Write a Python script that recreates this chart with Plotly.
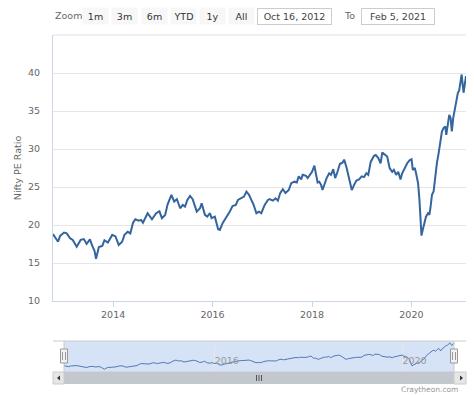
import plotly.graph_objects as go

# ---------------- data ----------------
dates = [
    "2012-10-16", "2012-11-22", "2012-12-07", "2013-01-05", "2013-01-25", "2013-02-18",
    "2013-03-10", "2013-03-24", "2013-04-08", "2013-05-07", "2013-05-31", "2013-06-20",
    "2013-07-14", "2013-08-03", "2013-08-17", "2013-08-28", "2013-09-18", "2013-10-13",
    "2013-10-29", "2013-11-23", "2013-12-25", "2014-01-18", "2014-02-11", "2014-03-08",
    "2014-03-25", "2014-04-18", "2014-05-07", "2014-05-27", "2014-06-13", "2014-07-07",
    "2014-07-25", "2014-08-08", "2014-09-11", "2014-10-13", "2014-11-13", "2014-12-07",
    "2014-12-25", "2015-01-18", "2015-02-04", "2015-02-18", "2015-03-05", "2015-03-25",
    "2015-04-14", "2015-05-08", "2015-05-27", "2015-06-13", "2015-06-30", "2015-07-20",
    "2015-08-08", "2015-09-07", "2015-10-01", "2015-10-13", "2015-10-25", "2015-11-06",
    "2015-11-23", "2015-12-13", "2015-12-25", "2016-01-18", "2016-02-11", "2016-02-24",
    "2016-03-15", "2016-04-08", "2016-04-24", "2016-05-07", "2016-05-27", "2016-06-20",
    "2016-07-06", "2016-07-31", "2016-08-19", "2016-09-06", "2016-09-25", "2016-10-12",
    "2016-10-29", "2016-11-18", "2016-12-07", "2016-12-24", "2017-01-18", "2017-02-11",
    "2017-02-23", "2017-03-19", "2017-04-08", "2017-04-25", "2017-05-12", "2017-05-31",
    "2017-06-20", "2017-07-14", "2017-08-01", "2017-08-25", "2017-09-11", "2017-09-25",
    "2017-10-13", "2017-10-24", "2017-11-18", "2017-11-30", "2017-12-12", "2018-01-01",
    "2018-01-18", "2018-01-30", "2018-02-11", "2018-02-23", "2018-03-08", "2018-03-19",
    "2018-04-01", "2018-04-18", "2018-05-07", "2018-05-20", "2018-06-06", "2018-06-20",
    "2018-07-07", "2018-07-25", "2018-08-13", "2018-08-25", "2018-09-11", "2018-09-30",
    "2018-10-20", "2018-11-06", "2018-11-23", "2018-12-12", "2019-01-01", "2019-01-18",
    "2019-02-04", "2019-02-18", "2019-03-08", "2019-04-01", "2019-04-14", "2019-05-03",
    "2019-05-20", "2019-06-01", "2019-06-20", "2019-07-07", "2019-07-25", "2019-08-13",
    "2019-08-25", "2019-09-11", "2019-09-26", "2019-10-13", "2019-10-25", "2019-11-14",
    "2019-11-30", "2019-12-18", "2020-01-02", "2020-01-11", "2020-01-26", "2020-02-04",
    "2020-02-19", "2020-02-29", "2020-03-07", "2020-03-15", "2020-03-24", "2020-04-08",
    "2020-04-17", "2020-05-02", "2020-05-12", "2020-05-21", "2020-05-31", "2020-06-12",
    "2020-06-25", "2020-07-06", "2020-07-19", "2020-07-31", "2020-08-12", "2020-08-24",
    "2020-09-06", "2020-09-13", "2020-09-25", "2020-10-05", "2020-10-15", "2020-10-24",
    "2020-11-03", "2020-11-13", "2020-11-25", "2020-12-07", "2020-12-17", "2020-12-27",
    "2021-01-04", "2021-01-18", "2021-02-05",
]
pe_ratio = [
    18.8, 17.8, 18.56, 19.0, 18.9, 18.26,
    18.04, 17.6, 17.15, 18.04, 18.15, 17.5,
    18.1, 17.15, 16.6, 15.55, 17.1, 17.25,
    18.0, 17.7, 18.7, 18.5, 17.38, 17.8,
    18.7, 19.1, 18.9, 20.3, 20.76, 20.58,
    20.67, 20.3, 21.55, 20.76, 21.55, 21.8,
    20.9, 21.33, 22.65, 23.3, 23.97, 23.08,
    23.4, 22.2, 22.65, 22.42, 23.3, 23.83,
    23.4, 21.76, 22.2, 22.87, 22.2, 21.33,
    21.1, 21.55, 20.9, 21.1, 19.45, 19.35,
    20.24, 20.9, 21.33, 21.76, 22.5, 22.65,
    23.3, 23.5, 23.74, 24.4, 23.97, 23.3,
    22.65, 21.55, 21.76, 21.55, 22.65, 23.3,
    23.4, 23.2, 23.5, 23.2, 24.2, 24.7,
    24.2, 24.6, 25.5, 25.7, 25.6, 26.4,
    26.0, 26.6, 26.47, 26.17, 26.47, 27.0,
    27.8, 26.6, 25.6, 25.7, 25.28, 24.6,
    25.28, 26.17, 26.8, 26.6, 27.35, 26.17,
    27.0, 28.05, 28.2, 28.6, 27.6, 25.95,
    24.6, 25.28, 25.85, 26.0, 26.4, 26.3,
    26.8, 26.6, 28.3, 29.1, 29.2, 28.8,
    28.1, 29.55, 29.2, 29.0, 27.5, 27.0,
    27.25, 26.6, 27.0, 26.0, 26.8, 27.5,
    28.1, 28.5, 28.65, 27.25, 27.5, 26.8,
    25.5, 23.3, 21.1, 18.6, 19.35, 20.3,
    21.1, 21.55, 21.33, 22.42, 23.97, 24.4,
    26.8, 28.1, 29.46, 30.78, 32.3, 32.75,
    32.97, 31.87, 33.4, 34.5, 34.07, 32.3,
    34.07, 35.16, 36.05, 37.37, 37.7, 38.68,
    39.8, 37.4, 39.6,
]
x_range = ["2012-10-16", "2021-02-05"]
y_ticks = [10, 15, 20, 25, 30, 35, 40]
range_buttons = ["1m", "3m", "6m", "YTD", "1y", "All"]
from_label = "Oct 16, 2012"
to_label = "Feb 5, 2021"
y_title = "Nifty PE Ratio"
credit = "Craytheon.com"

# ---------------- layout helpers ----------------
W, H = 474, 395
def px(x):
    return x / W
def py(y):
    return 1 - y / H

FONT = "DejaVu Sans"
LINE = "#34659e"

fig = go.Figure()
fig.add_trace(go.Scatter(x=dates, y=pe_ratio, mode="lines",
                         line=dict(color=LINE, width=2), hoverinfo="x+y",
                         xaxis="x", yaxis="y", showlegend=False))
fig.add_trace(go.Scatter(x=dates, y=pe_ratio, mode="lines",
                         line=dict(color="#5478b5", width=1), hoverinfo="skip",
                         xaxis="x2", yaxis="y2", showlegend=False))

shapes = []
annotations = []

# main plot top border
shapes.append(dict(type="line", xref="paper", yref="paper",
                   x0=px(53), x1=px(466), y0=py(35), y1=py(35),
                   line=dict(color="#e0e0e0", width=1)))

# navigator mask
shapes.append(dict(type="rect", xref="x2", yref="paper",
                   x0=x_range[0], x1=x_range[1], y0=py(372), y1=py(341),
                   fillcolor="rgba(120,160,225,0.3)", line=dict(width=0), layer="below"))
# navigator outline
shapes.append(dict(type="path", xref="paper", yref="paper",
                   path=(f"M {px(53)},{py(341)} L {px(64)},{py(341)} L {px(64)},{py(372)} "
                         f"L {px(454)},{py(372)} L {px(454)},{py(341)} L {px(466)},{py(341)}"),
                   line=dict(color="#cccccc", width=1)))
shapes.append(dict(type="line", xref="paper", yref="paper",
                   x0=px(64), x1=px(454), y0=py(341), y1=py(341),
                   line=dict(color="#cccccc", width=1)))

# scrollbar
shapes.append(dict(type="rect", xref="paper", yref="paper",
                   x0=px(53), x1=px(466), y0=py(384), y1=py(372),
                   fillcolor="#f2f2f2", line=dict(color="#f2f2f2", width=0)))
shapes.append(dict(type="rect", xref="paper", yref="paper",
                   x0=px(64), x1=px(454), y0=py(384), y1=py(372),
                   fillcolor="#c3c7ce", line=dict(color="#c3c7ce", width=0)))
for (a, b) in [(53, 64), (454, 466)]:
    shapes.append(dict(type="rect", xref="paper", yref="paper",
                       x0=px(a), x1=px(b), y0=py(384), y1=py(372),
                       fillcolor="#e6e6e6", line=dict(color="#cccccc", width=1)))
# arrows
shapes.append(dict(type="path", xref="paper", yref="paper",
                   path=f"M {px(57)},{py(378)} L {px(60)},{py(375.5)} L {px(60)},{py(380.5)} Z",
                   fillcolor="#333333", line=dict(width=0)))
shapes.append(dict(type="path", xref="paper", yref="paper",
                   path=f"M {px(463)},{py(378)} L {px(460)},{py(375.5)} L {px(460)},{py(380.5)} Z",
                   fillcolor="#333333", line=dict(width=0)))
# grip
for gx in (256.5, 259, 261.5):
    shapes.append(dict(type="line", xref="paper", yref="paper",
                       x0=px(gx), x1=px(gx), y0=py(375), y1=py(381),
                       line=dict(color="#555555", width=1)))

# navigator handles
for hx in (64, 454):
    shapes.append(dict(type="rect", xref="paper", yref="paper",
                       x0=px(hx - 3.5), x1=px(hx + 3.5), y0=py(363), y1=py(349),
                       fillcolor="#f2f2f2", line=dict(color="#999999", width=1)))
    for dx in (-1.5, 1.5):
        shapes.append(dict(type="line", xref="paper", yref="paper",
                           x0=px(hx + dx), x1=px(hx + dx), y0=py(360), y1=py(352),
                           line=dict(color="#999999", width=1)))

# range selector
annotations.append(dict(text="Zoom", xref="paper", yref="paper", x=px(53), y=py(16),
                        xanchor="left", yanchor="middle", showarrow=False,
                        font=dict(family=FONT, size=9.5, color="#666666")))
btn_centers = [95, 124.5, 154, 183, 212.5, 241.5]
for lab, cx in zip(range_buttons, btn_centers):
    annotations.append(dict(text=lab, xref="paper", yref="paper", x=px(cx), y=py(16),
                            xanchor="center", yanchor="middle", showarrow=False,
                            width=25, height=16, bgcolor="#f7f7f7", borderpad=0,
                            font=dict(family=FONT, size=9.5, color="#333333")))
annotations.append(dict(text=from_label, xref="paper", yref="paper", x=px(294.5), y=py(16.5),
                        xanchor="center", yanchor="middle", showarrow=False,
                        width=73, height=15, bgcolor="#ffffff", bordercolor="#cccccc",
                        borderwidth=1, borderpad=0,
                        font=dict(family=FONT, size=9.5, color="#444444")))
annotations.append(dict(text="To", xref="paper", yref="paper", x=px(349), y=py(16),
                        xanchor="center", yanchor="middle", showarrow=False,
                        font=dict(family=FONT, size=9.5, color="#666666")))
annotations.append(dict(text=to_label, xref="paper", yref="paper", x=px(398), y=py(16.5),
                        xanchor="center", yanchor="middle", showarrow=False,
                        width=72, height=15, bgcolor="#ffffff", bordercolor="#cccccc",
                        borderwidth=1, borderpad=0,
                        font=dict(family=FONT, size=9.5, color="#444444")))
# credit
annotations.append(dict(text=credit, xref="paper", yref="paper", x=px(460), y=py(389),
                        xanchor="right", yanchor="middle", showarrow=False,
                        font=dict(family=FONT, size=7.5, color="#999999")))

fig.update_layout(
    width=W, height=H, autosize=False,
    margin=dict(l=0, r=0, t=0, b=0),
    paper_bgcolor="white", plot_bgcolor="white",
    font=dict(family=FONT, size=9.5, color="#666666"),
    showlegend=False,
    xaxis=dict(domain=[px(53), px(466)], range=x_range, type="date",
               tick0="2014-01-01", dtick="M24", tickformat="%Y",
               showgrid=False, showline=True, linecolor="#ccd6eb", linewidth=1,
               ticks="outside", ticklen=5, tickcolor="#ccd6eb",
               tickfont=dict(family=FONT, size=9.5, color="#666666"),
               zeroline=False, anchor="y", fixedrange=True),
    yaxis=dict(domain=[py(301), py(35)], range=[10, 45], tickvals=y_ticks,
               showgrid=True, gridcolor="#e6e6e6", gridwidth=1,
               showline=True, linecolor="#ccd6eb", linewidth=1,
               ticks="", ticklabelstandoff=10, zeroline=False,
               tickfont=dict(family=FONT, size=9.5, color="#666666"),
               title=dict(text=y_title, standoff=4,
                          font=dict(family=FONT, size=9.5, color="#666666")),
               automargin=False, anchor="x", fixedrange=True),
    xaxis2=dict(domain=[px(64), px(454)], range=x_range, type="date",
                tick0="2016-01-01", dtick="M48", tickformat="%Y",
                showgrid=True, gridcolor="#e6e6e6", showline=False, ticks="",
                ticklabelposition="inside right",
                tickfont=dict(family=FONT, size=9.5, color="#999999"),
                zeroline=False, anchor="y2", fixedrange=True),
    yaxis2=dict(domain=[py(372), py(341)], range=[13, 41.5], visible=False,
                showgrid=False, zeroline=False, anchor="x2", fixedrange=True),
    shapes=shapes,
    annotations=annotations,
)

fig.write_html("out.html", config=dict(displayModeBar=False),
               post_script="document.body.style.margin='0px';document.body.style.overflow='hidden';")
